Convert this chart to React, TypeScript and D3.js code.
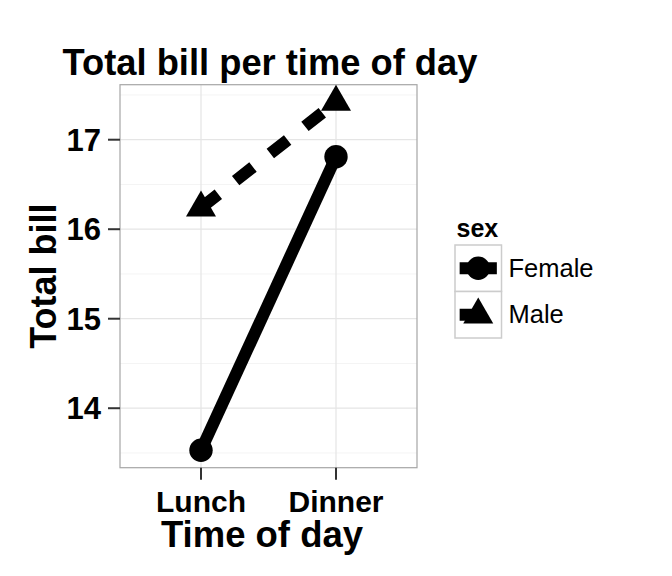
import { useRef, useEffect } from "react";
import * as d3 from "d3";

const times = ["Lunch", "Dinner"];
const sexes = ["Female", "Male"];
const femaleBill = [13.53, 16.81];
const maleBill = [16.24, 17.42];
const yTicks = [14, 15, 16, 17];
const yMinorTicks = [13.5, 14.5, 15.5, 16.5, 17.5];

const FONT = "'Liberation Sans', Arial, Helvetica, sans-serif";

export default function App() {
  const svgRef = useRef<SVGSVGElement>(null);

  useEffect(() => {
    if (!svgRef.current) return;

    const width = 672;
    const height = 576;
    const panel = { left: 120, right: 417, top: 84.7, bottom: 467.7 };

    const svg = d3.select(svgRef.current);
    svg.selectAll("*").remove();
    svg.attr("width", width).attr("height", height);

    svg.append("rect").attr("width", width).attr("height", height).attr("fill", "#fff");

    // ggplot-style 5% expansion on the continuous axis
    const all = [...femaleBill, ...maleBill];
    const lo = d3.min(all) ?? 0;
    const hi = d3.max(all) ?? 1;
    const pad = (hi - lo) * 0.05;

    const y = d3.scaleLinear().domain([lo - pad, hi + pad]).range([panel.bottom, panel.top]);
    const x = d3.scalePoint().domain(times).range([panel.left, panel.right]).padding(0.6);

    // panel grid
    const grid = svg.append("g");
    grid
      .selectAll(".minor")
      .data(yMinorTicks)
      .join("line")
      .attr("x1", panel.left)
      .attr("x2", panel.right)
      .attr("y1", (d) => y(d))
      .attr("y2", (d) => y(d))
      .attr("stroke", "#f4f4f4")
      .attr("stroke-width", 1);

    grid
      .selectAll(".major-y")
      .data(yTicks)
      .join("line")
      .attr("x1", panel.left)
      .attr("x2", panel.right)
      .attr("y1", (d) => y(d))
      .attr("y2", (d) => y(d))
      .attr("stroke", "#e5e5e5")
      .attr("stroke-width", 1.2);

    grid
      .selectAll(".major-x")
      .data(times)
      .join("line")
      .attr("x1", (d) => x(d) ?? 0)
      .attr("x2", (d) => x(d) ?? 0)
      .attr("y1", panel.top)
      .attr("y2", panel.bottom)
      .attr("stroke", "#e5e5e5")
      .attr("stroke-width", 1.2);

    svg
      .append("rect")
      .attr("x", panel.left)
      .attr("y", panel.top)
      .attr("width", panel.right - panel.left)
      .attr("height", panel.bottom - panel.top)
      .attr("fill", "none")
      .attr("stroke", "#a6a6a6")
      .attr("stroke-width", 1.2);

    // series
    const series = [
      { name: sexes[0], values: femaleBill, dash: null as string | null, symbol: d3.symbolCircle, size: 430 },
      { name: sexes[1], values: maleBill, dash: "22 22" as string | null, symbol: d3.symbolTriangle, size: 390 },
    ];

    const line = d3
      .line<number>()
      .x((_, i) => x(times[i]) ?? 0)
      .y((d) => y(d));

    svg
      .selectAll(".series-line")
      .data(series)
      .join("path")
      .attr("d", (s) => line(s.values))
      .attr("fill", "none")
      .attr("stroke", "#000")
      .attr("stroke-width", 12)
      .attr("stroke-dasharray", (s) => s.dash)
      .attr("stroke-linecap", "butt");

    series.forEach((s) => {
      svg
        .selectAll(`.pt-${s.name}`)
        .data(s.values)
        .join("path")
        .attr("transform", (d, i) => `translate(${x(times[i])},${y(d)})`)
        .attr("d", d3.symbol(s.symbol, s.size)())
        .attr("fill", "#000");
    });

    // y axis
    svg
      .selectAll(".y-tick")
      .data(yTicks)
      .join("line")
      .attr("x1", 108)
      .attr("x2", panel.left)
      .attr("y1", (d) => y(d))
      .attr("y2", (d) => y(d))
      .attr("stroke", "#333")
      .attr("stroke-width", 2);

    svg
      .selectAll(".y-label")
      .data(yTicks)
      .join("text")
      .attr("x", 101)
      .attr("y", (d) => y(d))
      .attr("dy", "0.36em")
      .attr("text-anchor", "end")
      .style("font-family", FONT)
      .style("font-weight", "bold")
      .style("font-size", "31px")
      .text((d) => d);

    // x axis
    svg
      .selectAll(".x-tick")
      .data(times)
      .join("line")
      .attr("x1", (d) => x(d) ?? 0)
      .attr("x2", (d) => x(d) ?? 0)
      .attr("y1", panel.bottom)
      .attr("y2", panel.bottom + 12)
      .attr("stroke", "#333")
      .attr("stroke-width", 2);

    svg
      .selectAll(".x-label")
      .data(times)
      .join("text")
      .attr("x", (d) => x(d) ?? 0)
      .attr("y", 512)
      .attr("text-anchor", "middle")
      .style("font-family", FONT)
      .style("font-weight", "bold")
      .style("font-size", "30px")
      .text((d) => d);

    // titles
    svg
      .append("text")
      .attr("x", 270)
      .attr("y", 75)
      .attr("text-anchor", "middle")
      .style("font-family", FONT)
      .style("font-weight", "bold")
      .style("font-size", "36.3px")
      .text("Total bill per time of day");

    svg
      .append("text")
      .attr("x", 262)
      .attr("y", 547)
      .attr("text-anchor", "middle")
      .style("font-family", FONT)
      .style("font-weight", "bold")
      .style("font-size", "36.5px")
      .text("Time of day");

    svg
      .append("text")
      .attr("transform", `translate(56,${(panel.top + panel.bottom) / 2}) rotate(-90)`)
      .attr("text-anchor", "middle")
      .style("font-family", FONT)
      .style("font-weight", "bold")
      .style("font-size", "36px")
      .text("Total bill");

    // legend
    const legend = svg.append("g").attr("transform", "translate(455,245)");
    const keySize = 46.5;

    legend
      .append("text")
      .attr("x", 1.5)
      .attr("y", -8.5)
      .style("font-family", FONT)
      .style("font-weight", "bold")
      .style("font-size", "25px")
      .text("sex");

    const keys = legend
      .selectAll(".key")
      .data(series)
      .join("g")
      .attr("transform", (_, i) => `translate(0,${i * keySize})`);

    keys
      .append("rect")
      .attr("width", keySize)
      .attr("height", keySize)
      .attr("fill", "#fff")
      .attr("stroke", "#cccccc")
      .attr("stroke-width", 1.5);

    keys
      .append("line")
      .attr("x1", keySize * 0.1)
      .attr("x2", keySize * 0.9)
      .attr("y1", keySize / 2)
      .attr("y2", keySize / 2)
      .attr("stroke", "#000")
      .attr("stroke-width", 12)
      .attr("stroke-dasharray", (s) => s.dash);

    keys
      .append("path")
      .attr("transform", `translate(${keySize / 2},${keySize / 2})`)
      .attr("d", (s) => d3.symbol(s.symbol, s.size)())
      .attr("fill", "#000");

    keys
      .append("text")
      .attr("x", keySize + 7)
      .attr("y", keySize / 2 + 8.5)
      .style("font-family", FONT)
      .style("font-size", "25.5px")
      .text((s) => s.name);
  }, []);

  return (
    <svg
      ref={svgRef}
      style={{ position: "absolute", left: 0, top: 0, display: "block" }}
    />
  );
}
